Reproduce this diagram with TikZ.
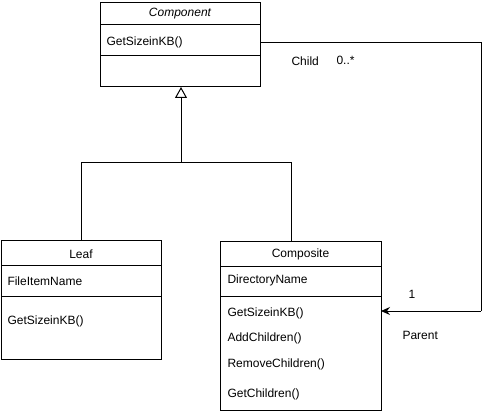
\documentclass[tikz,border=0pt]{standalone}
\usepackage{fontspec}
\setmainfont{Liberation Sans}
\usetikzlibrary{arrows.meta}
\begin{document}
\begin{tikzpicture}[x=1pt,y=-1pt, line width=1pt,
  box/.style={draw, line width=1pt, anchor=north west, inner sep=0pt},
  txt/.style={font=\fontsize{12}{14}\selectfont, inner sep=0pt},
  ltxt/.style={txt, anchor=west}]
\useasboundingbox (0,0) rectangle (489,414);
% Component
\node[box, minimum width=160pt, minimum height=84pt] (comp) at (100,2) {};
\draw (100,25) -- (260,25);
\draw (100,56) -- (260,56);
\node[txt, font=\fontsize{12}{14}\selectfont\itshape] (compT) at (180,14) {Component};
\node[ltxt] (compM) at (106,42) {GetSizeinKB()};
% Leaf
\node[box, minimum width=160pt, minimum height=119pt] (leaf) at (1,240) {};
\draw (1,265) -- (161,265);
\draw (1,296) -- (161,296);
\node[txt] (leafT) at (81,254) {Leaf};
\node[ltxt] (leafA) at (7,281) {FileItemName};
\node[ltxt] (leafM) at (7,321) {GetSizeinKB()};
% Composite
\node[box, minimum width=161pt, minimum height=169pt] (cmp) at (220,241) {};
\draw (220,266) -- (381,266);
\draw (220,296) -- (381,296);
\node[txt] (cmpT) at (300.5,254) {Composite};
\node[ltxt] (cmpA) at (227,280) {DirectoryName};
\node[ltxt] (cmpM1) at (227,313) {GetSizeinKB()};
\node[ltxt] (cmpM2) at (227,338) {AddChildren()};
\node[ltxt] (cmpM3) at (227,364) {RemoveChildren()};
\node[ltxt] (cmpM4) at (227,394) {GetChildren()};
% Generalization
\coordinate (gj) at (181,162);
\coordinate (gl) at (81,162);
\coordinate (gr) at (291,162);
\draw[{Triangle[open,length=11pt,width=12pt,line width=1pt]}-] (comp.south -| gj) -- (gj);
\draw (gl) -- (gr);
\draw (gl) -- (leaf.north -| gl);
\draw (gr) -- (cmp.north -| gr);
% Association
\coordinate (a1) at (481,43);
\coordinate (a2) at (481,311);
\coordinate (ah) at (381,311);
\draw (comp.east |- a1) -- (a1) -- (a2);
\draw[-{Stealth[length=9pt,width=8pt,inset=3pt]}] (a2) -- (ah);
\node[ltxt] (child) at (291,61) {Child};
\node[ltxt] (mult1) at (336,60) {0..*};
\node[ltxt] (mult2) at (408,294) {1};
\node[ltxt] (parent) at (402,335) {Parent};
\end{tikzpicture}
\end{document}
